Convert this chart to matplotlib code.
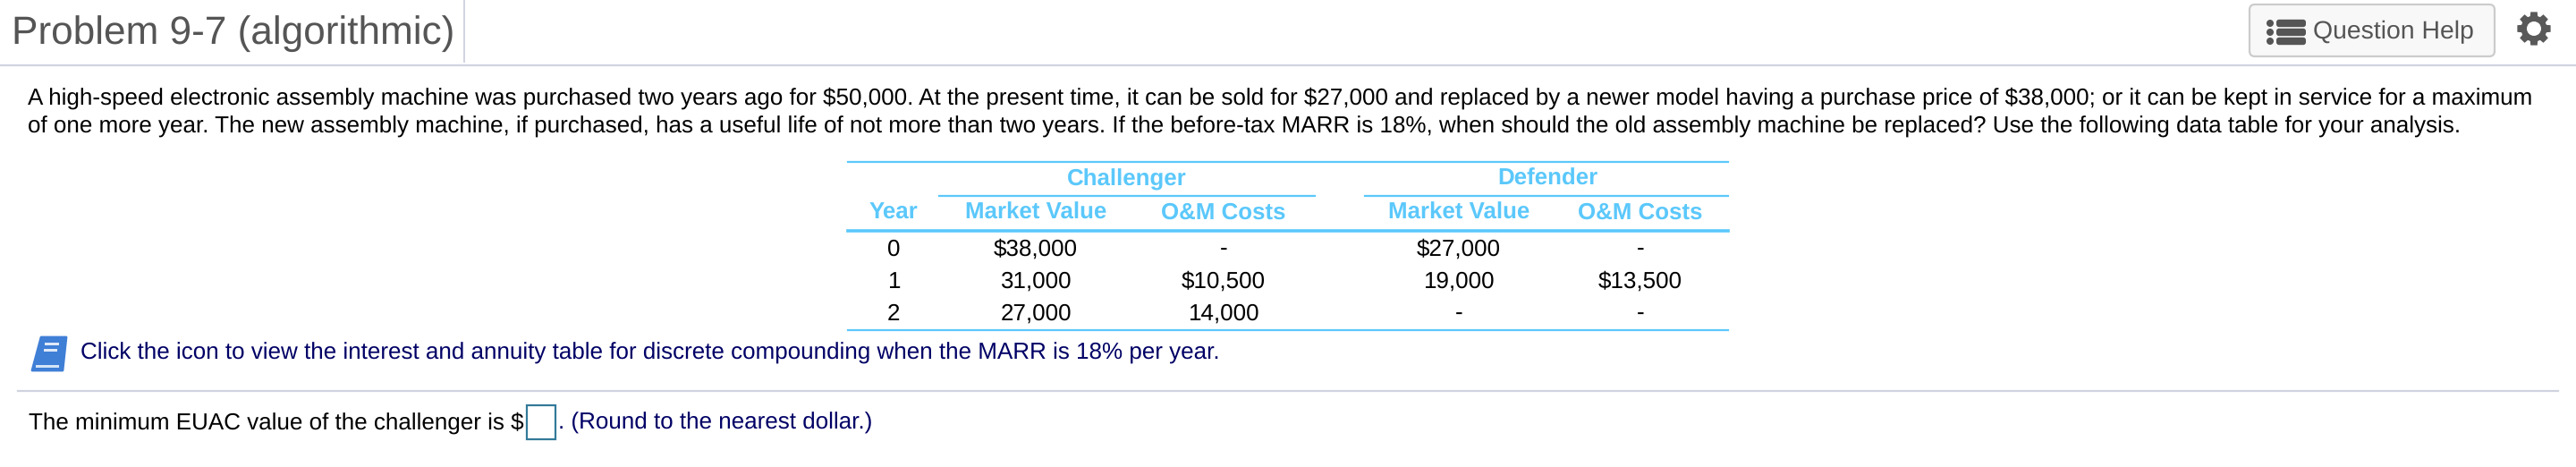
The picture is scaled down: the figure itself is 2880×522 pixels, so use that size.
import matplotlib
matplotlib.use('Agg')
import matplotlib.pyplot as plt
from matplotlib.patches import FancyBboxPatch, Rectangle, Circle, Polygon
import numpy as np

plt.rcParams['font.family'] = ['Liberation Sans', 'DejaVu Sans']
plt.rcParams['text.hinting'] = 'no_hinting'

# question text
title = 'Problem 9-7 (algorithmic)'
help_label = 'Question Help'
body_lines = [
    'A high-speed electronic assembly machine was purchased two years ago for $50,000. At the present time, it can be sold for $27,000 and replaced by a newer model having a purchase price of $38,000; or it can be kept in service for a maximum',
    'of one more year. The new assembly machine, if purchased, has a useful life of not more than two years. If the before-tax MARR is 18%, when should the old assembly machine be replaced? Use the following data table for your analysis.',
]
click_text = 'Click the icon to view the interest and annuity table for discrete compounding when the MARR is 18% per year.'
answer_text = 'The minimum EUAC value of the challenger is $'
round_text = '. (Round to the nearest dollar.)'

# table
groups = ['Challenger', 'Defender']
headers = ['Year', 'Market Value', 'O&M Costs', 'Market Value', 'O&M Costs']
years = ['0', '1', '2']
chal_mv = ['$38,000', '31,000', '27,000']
chal_om = ['-', '$10,500', '14,000']
def_mv = ['$27,000', '19,000', '-']
def_om = ['-', '$13,500', '-']

BLUE = '#5bc8fb'
GREY = '#d0d3e0'
NAVY = '#000066'
DARK = '#555555'
BODY_SIZE = 18.7

fig = plt.figure(figsize=(28.8, 5.22), dpi=100)
ax = fig.add_axes([0, 0, 1, 1])
ax.set_xlim(0, 2880)
ax.set_ylim(522, 0)
ax.axis('off')

# header bar
ax.text(13, 50, title, fontsize=31.8, color=DARK, va='baseline', ha='left')
ax.plot([519, 519], [0, 69], color=GREY, lw=1.4)
ax.plot([0, 2880], [73, 73], color=GREY, lw=1.6)

ax.add_patch(FancyBboxPatch((2515, 5), 274, 58, boxstyle='round,pad=0,rounding_size=6',
                            fc='#f8f8f8', ec='#cccccc', lw=1.6))
for yy in [26, 36, 46]:
    ax.add_patch(Circle((2538, yy), 4, fc=DARK, ec='none'))
    ax.add_patch(FancyBboxPatch((2545, yy - 4.2), 33, 8.4, boxstyle='round,pad=0,rounding_size=3',
                                fc=DARK, ec='none'))
ax.text(2586, 43, help_label, fontsize=20.4, color=DARK, va='baseline', ha='left')

# gear
gx, gy = 2833, 32
for a in np.linspace(0, 2 * np.pi, 8, endpoint=False):
    pts = [(gx + 12 * np.cos(a - 0.38), gy + 12 * np.sin(a - 0.38)),
           (gx + 19 * np.cos(a - 0.2), gy + 19 * np.sin(a - 0.2)),
           (gx + 19 * np.cos(a + 0.2), gy + 19 * np.sin(a + 0.2)),
           (gx + 12 * np.cos(a + 0.38), gy + 12 * np.sin(a + 0.38))]
    ax.add_patch(Polygon(pts, closed=True, fc='#595959', ec='none'))
ax.add_patch(Circle((gx, gy), 14.5, fc='#595959', ec='none'))
ax.add_patch(Circle((gx, gy), 8, fc='white', ec='none'))

# question
for line, yy in zip(body_lines, [117, 149]):
    ax.text(31, yy, line, fontsize=BODY_SIZE, color='black', va='baseline', ha='left')

# table rules
ax.plot([948, 1932], [181, 181], color=BLUE, lw=1.6)
ax.plot([1050, 1470], [219, 219], color=BLUE, lw=1.6)
ax.plot([1526, 1932], [219, 219], color=BLUE, lw=1.6)
ax.plot([948, 1932], [258, 258], color=BLUE, lw=2.6)
ax.plot([948, 1932], [369, 369], color=BLUE, lw=1.6)

col_x = [999, 1158, 1368, 1631, 1834]
row_y = [286, 322, 358]
ax.text(1260, 207, groups[0], fontsize=18.6, color=BLUE, fontweight='bold', ha='center', va='baseline')
ax.text(1730, 207, groups[1], fontsize=18.6, color=BLUE, fontweight='bold', ha='center', va='baseline')
for x, h in zip(col_x, headers):
    ax.text(x, 245, h, fontsize=18.6, color=BLUE, fontweight='bold', ha='center', va='baseline')
for x, col in zip(col_x, [years, chal_mv, chal_om, def_mv, def_om]):
    for yy, val in zip(row_y, col):
        ax.text(x, yy, val, fontsize=BODY_SIZE, color='black', ha='center', va='baseline')

# book icon
ax.add_patch(Polygon([(46, 377), (74, 377), (70, 414), (36, 414)], closed=True,
                     fc='#3f7fd6', ec='#3f7fd6', lw=2, joinstyle='round'))
ax.add_patch(Rectangle((40, 408), 26, 3, fc='#d5e4f7', ec='none'))
ax.add_patch(Rectangle((50, 383), 16, 3, fc='#dfe9f8', ec='none'))
ax.add_patch(Rectangle((49, 390), 15, 3, fc='#dfe9f8', ec='none'))
ax.text(90, 402, click_text, fontsize=BODY_SIZE, color=NAVY, va='baseline', ha='left')

ax.plot([20, 2860], [437, 437], color=GREY, lw=1.6)

# answer line
ax.text(32, 480, answer_text, fontsize=BODY_SIZE, color='black', va='baseline', ha='left')
ax.add_patch(Rectangle((589, 453), 32, 38, fc='white', ec='#337a99', lw=1.6))
ax.text(624, 480, round_text, fontsize=BODY_SIZE, color=NAVY, va='baseline', ha='left')

fig.savefig('out.png', dpi=100)
